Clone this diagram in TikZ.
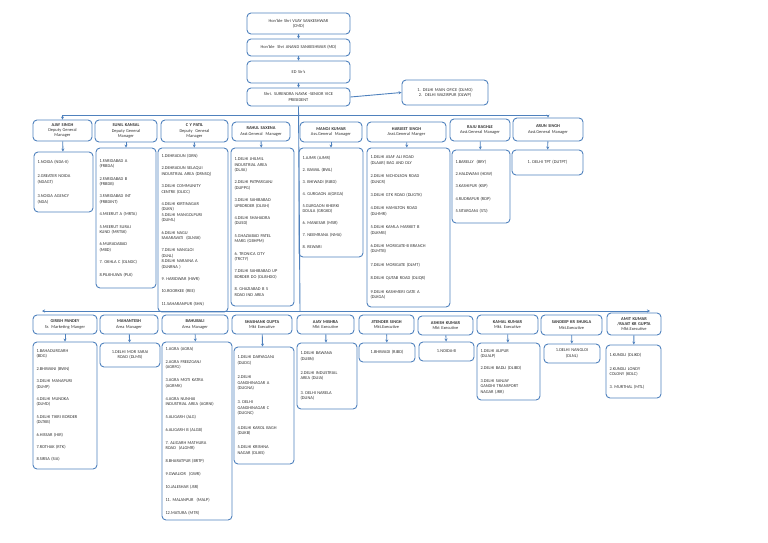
\documentclass[tikz,border=0pt]{standalone}
\usepackage{fontspec}
\setmainfont{Carlito}
\usetikzlibrary{arrows.meta}
\definecolor{bl}{HTML}{4F81BD}
\definecolor{tx}{HTML}{303030}
\def\gpl{5pt}
\newcommand\gp{\\[\gpl]}
\newcommand\bx[7][]{%
 \pgfmathsetmacro\bw{#5-#3}\pgfmathsetmacro\bh{#6-#4}\pgfmathsetmacro\tw{#5-#3-7}%
 \pgfmathsetmacro\cx{(#3+#5)/2}\pgfmathsetmacro\cy{-(#4+#6)/2}%
 \node[box,minimum width=\bw pt,minimum height=\bh pt,text width=\tw pt,#1] (#2) at (\cx,\cy) {#7};}
\begin{document}
\begin{tikzpicture}[x=1pt,y=1pt,
 box/.style={draw=bl,line width=0.9pt,rounded corners=4pt,inner sep=0pt,font=\fontsize{4.4}{5.4}\selectfont,text=tx,align=left},
 hd/.style={align=center},
 ct/.style={align=center},
 con/.style={draw=bl,line width=0.9pt,-{Stealth[length=3pt,width=3pt]}},
 ln/.style={draw=bl,line width=0.9pt}]
\useasboundingbox (0,0) rectangle (768,-543);
% top chain
\bx[ct]{cmd}{247}{13}{350}{34}{Hon'ble Shri VIJAY SANKESHWAR\\(CMD)}
\bx[ct]{md}{247}{39}{350}{56}{Hon'ble\ \ Shri ANAND SANKESHWAR (MD)}
\bx[ct]{ed}{247}{61}{350}{83}{ED Sir's}
\bx[ct]{svp}{247}{88}{350}{106}{Shri. SURENDRA NAYAK -SENIOR VICE\\PRESIDENT}
\bx[ct]{dlmo}{402}{80}{488}{105}{1. DELHI MAIN OFICE (DLMO)\\2.\ \ DELHI WAZIRPUR (DLWP)}
\draw[con] (cmd) -- (md);
\draw[con] (md) -- (ed);
\draw[con] (ed) -- (svp);
\draw[con] (svp.east) -- (dlmo.west);
% row 1 headers
\bx[hd]{h1}{33}{120}{92}{141}{\textbf{AJAY SINGH}\\Deputy General\\Manager}
\bx[hd]{h2}{95}{120}{157}{142}{\textbf{SUNIL KANSAL}\\Deputy General\\Manager}
\bx[hd]{h3}{161}{120}{228}{142}{\textbf{C Y PATIL}\\Deputy\ \ General\\Manager}
\bx[hd]{h4}{232}{122}{290}{141}{\textbf{RAHUL SAXENA}\\Asst.General\ \ Manager}
\bx[hd]{h5}{300}{122}{362}{142}{\textbf{MANOJ KUMAR}\\Ass.General\ \ Manager}
\bx[hd]{h6}{367}{122}{446}{142}{\textbf{HARJEET SINGH}\\Asst.General Manger}
\bx[hd]{h7}{450}{119}{510}{141}{\textbf{RAJU BAGHLE}\\Asst.General Manager}
\bx[hd]{h8}{513}{118}{583}{141}{\textbf{ARUN SINGH}\\Asst.General Manager}
% row 1 lists
\def\gpl{9pt}
\bx{l1}{34}{152}{93}{212}{1.NOIDA (NDA-II)\gp 2.GREATER NOIDA\\(NDAGT)\gp 3.NOIDA AGENCY\\(NDA)}
\def\gpl{7pt}
\bx{l2}{96}{148}{156}{288}{1.FARIDABAD A\\(FRBDA)\gp 2.FARIDABAD B\\(FRBDB)\gp 3.FARIDABAD INT\\(FRBDINT)\gp 4.MEERUT A (MRTA)\gp 5.MEERUT SURAJ\\KUND (MRTSK)\gp 6.MURADABAD\\(MBD)\gp 7.\ OKHLA C (DLNDC)\gp 8.PILKHUWA (PLK)}
\bx{l3}{158}{148}{228}{312}{1.DEHRADUN (DRN)\gp 2.DEHRADUN SELAQUI\\INDUSTRIAL AREA (DRNSQ)\gp 3.DELHI COMMUNITY\\CENTRE (DLICC)\gp 4.DELHI KIRTINAGAR\\(DLKN)\\5.DELHI MANGOLPURI\\(DLIML)\gp 6.DELHI NAGU\\SAKARAVATI\ \ (DLNSK)\gp 7.DELHI NANGLOI\\(DLNL)\\8.DELHI NARAINA A\\(DLNRNA )\gp 9.\ HARIDWAR (HWR)\gp 10.ROORKEE (REE)\gp 11.SAHARANPUR (SHN)}
\bx{l4}{231}{148}{294}{306}{1.DELHI JHILMIL\\INDUSTRIAL AREA\\(DLJIA)\gp 2.DELHI PATPARGANJ\\(DLIPPG)\gp 3.DELHI SAHIBABAD\\UPBORDER (DLISH)\gp 4.DELHI SHAHADRA\\(DLISD)\gp 5.GHAZIABAD PATEL\\MARG (GBHPM)\gp 6.\ TRONICA CITY\\(TRCTY)\gp 7.DELHI SAHIBABAD UP\\BORDER DO (DLISHDO)\gp 8.\ GHAZIABAD B S\\ROAD IND AREA}
\def\gpl{6.5pt}
\bx{l5}{299}{148}{363}{257}{1.AJMR (AJMR)\gp 2.\ BAWAL (BWL)\gp 3.\ BHIWADI (RJBD)\gp 4.\ GURGAON A(GRGA)\gp 5.GURGAON KHERKI\\DOULA (GRGKD)\gp 6.\ MANESAR (MSR)\gp 7.\ NEEMRANA (NMA)\gp 8.\ REWARI}
\def\gpl{8pt}
\bx{l6}{367}{148}{450}{307}{1.DELHI ASAF ALI ROAD\\(DLAAR) BAG AND DLY\gp 2.DELHI NICHOLSON ROAD\\(DLNCR)\gp 3.DELHI GTK ROAD (DLIGTK)\gp 4.DELHI HAMILTON ROAD\\(DLHMR)\gp 5.DELHI KAMLA MARKET B\\(DLKMB)\gp 6.DELHI MORIGATE-B BRANCH\\(DLMTB)\gp 7.DELHI MORIGATE (DLMT)\gp 8.DELHI QUTAB ROAD (DLIQR)\gp 9.DELHI KASHMERI GATE A\\(DLKGA)}
\def\gpl{7pt}
\bx{l7}{452}{150}{510}{223}{1.BARELLY\ \ (BRY)\gp 2.HALDWANI (HDW)\gp 3.KASHIPUR (KSP)\gp 4.RUDRAPUR (RDP)\gp 5.SITARGANJ (STJ)}
\bx[ct]{l8}{512}{150}{583}{175}{1.\ DELHI TPT (DLITPT)}
\foreach \i in {1,...,8}{\draw[con] (h\i) -- (l\i);}
% bus 1
\coordinate (t1) at (300,-115);
\coordinate (b1) at (300,-311);
\draw[ln] (svp.south) -- (b1);
\draw[con] (t1) -| (h1.north);
\draw[con] (t1) -| (h8.north);
% row 2 headers
\bx[hd]{g1}{33}{315}{97}{334}{\textbf{GIRISH PANDEY}\\Sr. Marketing Manger}
\bx[hd]{g2}{100}{315}{158}{334}{\textbf{MAHANTESH}\\Area Manager}
\bx[hd]{g3}{162}{315}{228}{334}{\textbf{BAHUBALI}\\Area Manager}
\bx[hd]{g4}{232}{315}{292}{334}{\textbf{SHASHANK GUPTA}\\Mkt Executive}
\bx[hd]{g5}{297}{315}{354}{334}{\textbf{AJAY MISHRA}\\Mkt Executive}
\bx[hd]{g6}{359}{315}{414}{334}{\textbf{JITENDER SINGH}\\Mkt.Executive}
\bx[hd]{g7}{418}{316}{473}{335}{\textbf{ASHISH KUMAR}\\Mkt Executive}
\bx[hd]{g8}{477}{315}{538}{334}{\textbf{KAMAL KUMAR}\\Mkt.\ Executive}
\bx[hd]{g9}{541}{315}{602}{335}{\textbf{SANDEEP KR SHUKLA}\\Mkt.Executive}
\bx[hd]{g10}{607}{313}{661}{335}{\textbf{AMIT KUMAR}\\\textbf{/RAJAT KR GUPTA}\\Mkt.Executive}
% row 2 lists
\def\gpl{7pt}
\bx{m1}{33}{342}{97}{469}{1.BAHADURGARH\\(BDG)\gp 2.BHIWANI (BWN)\gp 3.DELHI MANAPURI\\(DLMP)\gp 4.DELHI MUNDKA\\(DLMD)\gp 5.DELHI TIKRI BORDER\\(DLTKB)\gp 6.HISSAR (HIR)\gp 7.ROTHAK (RTK)\gp 8.SIRSA (SIA)}
\bx[ct]{m2}{100}{343}{160}{367}{1.DELHI MOR SARAI\\ROAD (DLMS)}
\def\gpl{7.5pt}
\bx{m3}{162}{342}{232}{520}{1.AGRA (AGRA)\gp 2.AGRA FREEZGANJ\\(AGRFG)\gp 3.AGRA MOTI KATRA\\(AGRMK)\gp 4.AGRA NUNHAI\\INDUSTRIAL AREA (AGRNI)\gp 5.ALIGARH (ALG)\gp 6.ALIGARH B (ALGB)\gp 7.\ ALIGARH MATHURA\\ROAD\ \ (ALGMR)\gp 8.BHARATPUR (BRTP)\gp 9.GWALIOR\ \ (GWR)\gp 10.JALESHAR (JSR)\gp 11.\ MALANPUR\ \ (MALP)\gp 12.MATURA (MTR)}
\def\gpl{9pt}
\bx{m4}{234}{347}{294}{464}{1.DELHI DARYAGANJ\\(DLIDG)\gp 2.DELHI\\GANDHINAGAR A\\(DLIGNA)\gp 3.\ DELHI\\GANDHINAGAR C\\(DLIGNC)\gp 4.DELHI KAROL BAGH\\(DLIKB)\gp 5.DELHI KRISHNA\\NAGAR (DLIKS)}
\bx{m5}{297}{343}{357}{409}{1.DELHI BAWANA\\(DLIBN)\gp 2.DELHI INDUSTRIAL\\AREA (DLIIA)\gp 3.\ DELHI NARELA\\(DLINA)}
\bx[ct]{m6}{359}{343}{415}{362}{1.BHIWADI (RJBD)}
\bx[ct]{m7}{419}{342}{474}{361}{1.NOIDA-B}
\def\gpl{7pt}
\bx{m8}{477}{343}{540}{400}{1.DELHI ALIPUR\\(DLIALP)\gp 2.DELHI BADLI (DLIBD)\gp 3.DELHI SANJAY\\GANDHI TRANSPORT\\NAGAR (JRR)}
\bx[ct]{m9}{544}{344}{600}{363}{1.DELHI NANGLOI\\(DLNL)}
\def\gpl{8pt}
\bx{m10}{606}{345}{661}{398}{1.KUNDLI (DLIKD)\gp 2.KUNDLI LONDY\\COLONY (KDLC)\gp 3.\ MURTHAL (MTL)}
\foreach \i in {1,...,10}{\draw[con] (g\i) -- (m\i);}
% bus 2
\coordinate (bl2) at (42,-311);
\coordinate (br2) at (650,-311);
\draw[con] (b1) -- (bl2);
\draw[con] (b1) -- (br2);
\end{tikzpicture}
\end{document}
